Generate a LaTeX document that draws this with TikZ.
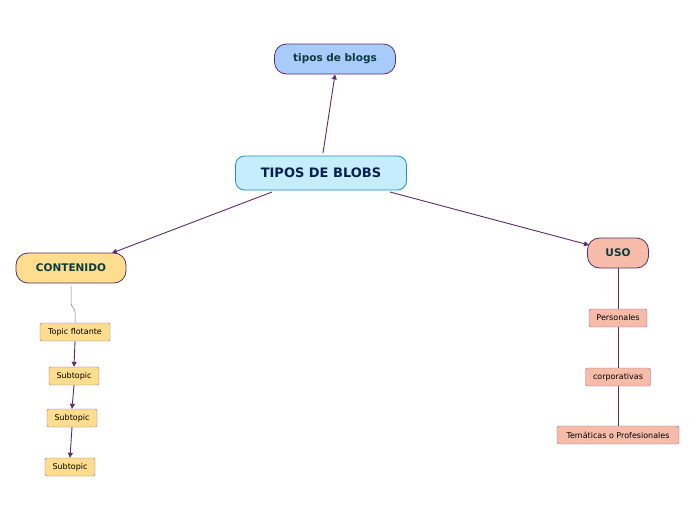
\documentclass[tikz,border=0pt]{standalone}
\usepackage{fontspec}
\setmainfont{DejaVu Sans}
\usetikzlibrary{arrows.meta}
\definecolor{purp}{HTML}{5B2C6F}
\definecolor{cyanf}{HTML}{C5EDFB}
\definecolor{cyanb}{HTML}{1F8FD0}
\definecolor{bluef}{HTML}{A9CBFB}
\definecolor{yelf}{HTML}{FEDD8E}
\definecolor{salf}{HTML}{F7BBAA}
\definecolor{navy}{HTML}{0A1F4F}
\definecolor{dgreen}{HTML}{0B3B3B}
\tikzset{
  main/.style={draw=cyanb,fill=cyanf,rounded corners=9pt,minimum width=171pt,minimum height=34pt,font=\fontsize{13}{15}\selectfont\bfseries,text=navy,line width=0.8pt},
  mid/.style={draw=purp,fill=#1,rounded corners=12pt,minimum height=30pt,font=\fontsize{10.5}{12}\selectfont\bfseries,text=dgreen,line width=0.8pt},
  sub/.style={draw=purp!70,fill=#1,rounded corners=2pt,minimum height=18pt,inner xsep=5pt,font=\fontsize{8}{10}\selectfont},
  arr/.style={draw=purp,line width=0.9pt,-{Triangle[length=5pt,width=5pt]}},
  ln/.style={draw=purp,line width=0.5pt}
}
\begin{document}
\begin{tikzpicture}[x=1pt,y=-1pt]
\useasboundingbox (0,0) rectangle (696,520);
\node[main] (c) at (321,173) {TIPOS DE BLOBS};
\node[mid=bluef,minimum width=121pt] (t) at (335,59) {tipos de blogs};
\node[mid=yelf,minimum width=110pt] (k) at (71,268) {CONTENIDO};
\node[mid=salf,minimum width=61pt] (u) at (618,253) {USO};
\node[sub=yelf,minimum width=70pt] (tf) at (75,332) {Topic flotante};
\node[sub=yelf,minimum width=50pt] (s1) at (74,376) {Subtopic};
\node[sub=yelf,minimum width=50pt] (s2) at (72,418) {Subtopic};
\node[sub=yelf,minimum width=50pt] (s3) at (70,467) {Subtopic};
\node[sub=salf,minimum width=58pt] (p) at (618,318) {Personales};
\node[sub=salf,minimum width=65pt] (co) at (618,377) {corporativas};
\node[sub=salf,minimum width=122pt] (te) at (618,435) {Temáticas o Profesionales};
\coordinate (c1) at (323,153);
\coordinate (c2) at (272,192);
\coordinate (c3) at (390,192);
\draw[arr] (c1) -- (t.south);
\draw[arr] (c2) -- (112,253);
\draw[arr] (c3) -- (589,245);
\draw[gray,line width=0.5pt] (71,286) -- (71,303) to[out=-90,in=90] (75,312) -- (tf.north);
\draw[arr] (tf.south) -- (s1.north);
\draw[arr] (s1.south) -- (s2.north);
\draw[arr] (s2.south) -- (s3.north);
\draw[ln] (u.south) -- (p.north);
\draw[ln] (p.south) -- (co.north);
\draw[ln] (co.south) -- (te.north);
\end{tikzpicture}
\end{document}
